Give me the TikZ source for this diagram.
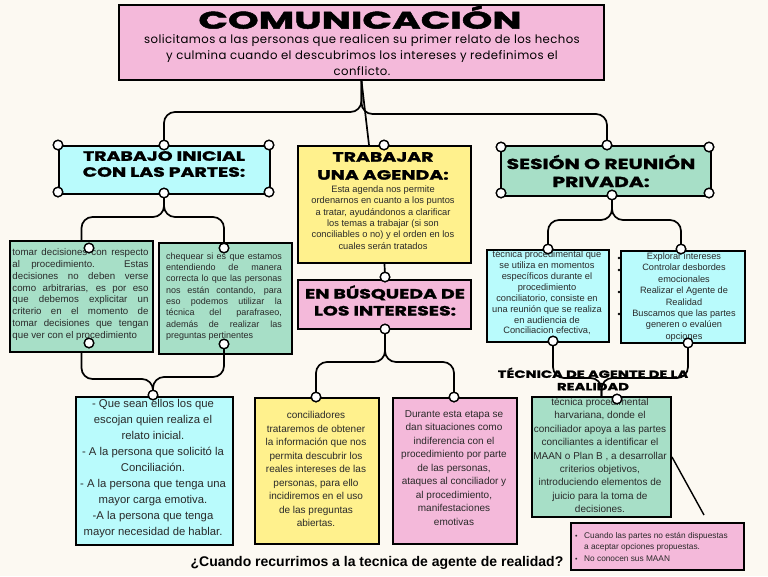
\documentclass[tikz,border=0pt]{standalone}
\usepackage{fontspec}
\setmainfont{Liberation Sans}
\newfontfamily\heavy{Poppins}[FakeStretch=1.4, FakeBold=1.5]
\newfontfamily\heavytitle{Poppins}[FakeStretch=1.62, FakeBold=2]
\newfontfamily\soft{Poppins}[LetterSpace=3.5]
\newcommand{\myfs}[2]{\fontsize{#1}{#2}\selectfont}
\definecolor{bg}{HTML}{FCF9F2}
\definecolor{pinkc}{HTML}{F4B9DA}
\definecolor{cyanc}{HTML}{B9FBFC}
\definecolor{greenc}{HTML}{A7DFC7}
\definecolor{yellowc}{HTML}{FFF18D}
\definecolor{ink}{HTML}{2A2A2A}
\begin{document}
\begin{tikzpicture}[x=1pt,y=-1pt,
  box/.style={draw=black, line width=2pt, inner sep=0pt, anchor=north west},
  handle/.style={circle, draw=black, fill=white, line width=1.3pt, inner sep=0pt, minimum size=9.5pt},
  link/.style={draw=black, line width=1.7pt, rounded corners=11pt, line join=round},
  heading/.style={inner sep=0pt, align=center, text=black},
  txt/.style={inner sep=0pt, align=center, text=ink},
  jtxt/.style={inner sep=0pt, align=justify, text=ink}]
\fill[bg] (0,0) rectangle (768,576);
\useasboundingbox (0,0) rectangle (768,576);

% boxes
\node[box, fill=pinkc, minimum width=485pt, minimum height=75pt] (title) at (118,4) {};
\node[box, fill=cyanc, minimum width=211pt, minimum height=48pt] (tic) at (58,145) {};
\node[box, fill=yellowc, minimum width=173pt, minimum height=117pt] (agenda) at (297,145) {};
\node[box, fill=pinkc, minimum width=173pt, minimum height=49pt] (busq) at (297,279) {};
\node[box, fill=greenc, minimum width=143pt, minimum height=111pt] (tomar) at (9,240) {};
\node[box, fill=greenc, minimum width=133pt, minimum height=111pt] (cheq) at (158,242) {};
\node[box, fill=cyanc, minimum width=157pt, minimum height=148pt] (quien) at (75,396) {};
\node[box, fill=yellowc, minimum width=124pt, minimum height=146pt] (concil) at (254,397) {};
\node[box, fill=pinkc, minimum width=124pt, minimum height=146pt] (durante) at (392,397) {};
\node[box, fill=greenc, minimum width=210pt, minimum height=50pt] (sesion) at (500,145) {};
\node[box, fill=cyanc, minimum width=122pt, minimum height=92pt] (tecproc) at (486,249) {};
\node[box, fill=cyanc, minimum width=124pt, minimum height=92pt] (explorar) at (620,250) {};
\node[box, fill=greenc, minimum width=139pt, minimum height=120pt] (harv) at (531,396) {};
\node[box, fill=pinkc, minimum width=173pt, minimum height=47pt] (cuando) at (570,522) {};

% texts
\node[heading, font=\heavytitle\bfseries\myfs{24}{26}] (titlet) at (360,17) {COMUNICACIÓN};
\node[heading, font=\soft\myfs{11.7}{16}] (subt) at (362,55.5) {solicitamos a las personas que realicen su primer relato de los hechos\\y culmina cuando el descubrimos los intereses y redefinimos el\\conflicto.};
\node[heading, font=\heavy\bfseries\myfs{13.5}{16}] (tict) at (164,164) {TRABAJO INICIAL\\CON LAS PARTES:};
\node[heading, font=\heavy\bfseries\myfs{13.5}{18}] (agendah) at (383,166) {TRABAJAR\\UNA AGENDA:};
\node[txt, font=\myfs{9.3}{11.4}] (agendat) at (383,217.5) {Esta agenda nos permite\\ordenarnos en cuanto a los puntos\\a tratar, ayudándonos a clarificar\\los temas a trabajar (si son\\conciliables o no) y el orden en los\\cuales serán tratados};
\node[heading, font=\heavy\bfseries\myfs{13.5}{17}] (busqt) at (385,300.5) {EN BÚSQUEDA DE\\LOS INTERESES:};
\node[jtxt, font=\myfs{9.7}{11.9}, text width=136pt] (tomart) at (80.5,294.5) {tomar decisiones con respecto\linebreak al procedimiento. Estas\linebreak decisiones no deben verse\linebreak como arbitrarias, es por eso\linebreak que debemos explicitar un\linebreak criterio en el momento de\linebreak tomar decisiones que tengan\linebreak que ver con el procedimiento};
\node[jtxt, font=\myfs{9}{11.3}, text width=116pt] (cheqt) at (224,296.5) {chequear si es que estamos\linebreak entendiendo de manera\linebreak correcta lo que las personas\linebreak nos están contando, para\linebreak eso podemos utilizar la\linebreak técnica del parafraseo,\linebreak además de realizar las\linebreak preguntas pertinentes};
\node[txt, font=\myfs{11.3}{16}] (quient) at (153,469) {- Que sean ellos los que\\escojan quien realiza el\\relato inicial.\\- A la persona que solicitó la\\Conciliación.\\- A la persona que tenga una\\mayor carga emotiva.\\-A la persona que tenga\\mayor necesidad de hablar.};
\node[txt, font=\myfs{10}{13.5}] (concilt) at (316,469) {conciliadores\\trataremos de obtener\\la información que nos\\permita descubrir los\\reales intereses de las\\personas, para ello\\incidiremos en el uso\\de las preguntas\\abiertas.};
\node[txt, font=\myfs{10}{13.5}] (durantet) at (454,468) {Durante esta etapa se\\dan situaciones como\\indiferencia con el\\procedimiento por parte\\de las personas,\\ataques al conciliador y\\al procedimiento,\\manifestaciones\\emotivas};
\node[heading, font=\heavy\bfseries\myfs{14.5}{18}] (sesiont) at (601,171) {SESIÓN O REUNIÓN\\PRIVADA:};
\node[txt, font=\myfs{9.3}{10.9}] (tecproct) at (547,293) {técnica procedimental que\\se utiliza en momentos\\específicos durante el\\procedimiento\\conciliatorio, consiste en\\una reunión que se realiza\\en audiencia de\\Conciliacion efectiva,};
\node[txt, font=\myfs{9.2}{11.4}] (explorart) at (684,297) {Explorar intereses\\Controlar desbordes\\emocionales\\Realizar el Agente de\\Realidad\\Buscamos que las partes\\generen o evalúen\\opciones};
\node[heading, font=\heavy\bfseries\myfs{10.5}{12.5}] (agentet) at (593,379) {TÉCNICA DE AGENTE DE LA\\REALIDAD};
\node[txt, font=\myfs{10}{13.4}] (harvt) at (600,455.5) {técnica procedimental\\harvariana, donde el\\conciliador apoya a las partes\\conciliantes a identificar el\\MAAN o Plan B , a desarrollar\\criterios objetivos,\\introduciendo elementos de\\juicio para la toma de\\decisiones.};
\node[txt, align=left, font=\myfs{8.3}{11.5}, anchor=west] (cuandot) at (575,546.5) {\makebox[9pt][l]{\scriptsize •}Cuando las partes no están dispuestas\\\hspace*{9pt}a aceptar opciones propuestas.\\\makebox[9pt][l]{\scriptsize •}No conocen sus MAAN};
\node[heading, font=\bfseries\myfs{14}{15}] (pregunta) at (377,563) {¿Cuando recurrimos a la tecnica de agente de realidad?};

% bullet dots beside explorar
\foreach \yy in {258,270,292,314} \fill[black] (619,\yy) circle (1.3pt);

% handles (positions)
\node[handle] (hticA) at (58,145) {};
\node[handle] (hticB) at (269,145) {};
\node[handle] (hticC) at (58,192) {};
\node[handle] (hticD) at (269,192) {};
\node[handle] (hticT) at (164,145) {};
\node[handle] (hticM) at (164,193) {};
\node[handle] (hagT) at (384,145) {};
\node[handle] (hbuT) at (385,277) {};
\node[handle] (hbuB) at (385,329) {};
\node[handle] (htoT) at (89,248) {};
\node[handle] (htoB) at (89,343) {};
\node[handle] (hchT) at (224,248) {};
\node[handle] (hchB) at (224,344) {};
\node[handle] (hquT) at (153,395) {};
\node[handle] (hcoT) at (316,397) {};
\node[handle] (hduT) at (454,397) {};
\node[handle] (hseA) at (501,147) {};
\node[handle] (hseB) at (709,147) {};
\node[handle] (hseC) at (501,193) {};
\node[handle] (hseD) at (709,193) {};
\node[handle] (hseT) at (607,145) {};
\node[handle] (hseM) at (612,195) {};
\node[handle] (htpT) at (548,249) {};
\node[handle] (htpB) at (553,341) {};
\node[handle] (hexT) at (681,249) {};
\node[handle] (hexB) at (688,343) {};
\node[handle] (hhaT) at (617,399) {};

% connectors
\coordinate (diagEnd) at (704,515);
\draw[link] (title.south) -- ++(0,31) -| (hticT.center);
\draw[link] (title.south) -- ++(0,33) -| (hseT.center);
\draw[link] (title.south) -- ([xshift=-15pt]hagT.center);
\draw[link] (hticM.center) -- ++(0,24) -| (tomar.north);
\draw[link] (hticM.center) -- ++(0,24) -| (hchT.center);
\draw[link] (tomar.south) -- ++(0,26) -| (hquT.center);
\draw[link] (hchB.center) -- ++(0,33) -| (hquT.center);
\draw[link] (agenda.south) -- (hbuT.center);
\draw[link] (hbuB.center) -- ++(0,33) -| (hcoT.center);
\draw[link] (hbuB.center) -- ++(0,33) -| (hduT.center);
\draw[link] (hseM.center) -- ++(0,25) -| (htpT.center);
\draw[link] (hseM.center) -- ++(0,25) -| (hexT.center);
\draw[link] (htpB.center) -- ++(0,37) -| (harv.north);
\draw[link] (hexB.center) -- ++(0,35) -| (harv.north);
\draw[link, line width=1.4pt] ([yshift=-61pt]harv.north east) -- (diagEnd);

% handles drawn on top of connectors
\foreach \h in {hticA,hticB,hticC,hticD,hticT,hticM,hagT,hbuT,hbuB,htoT,htoB,hchT,hchB,hquT,hcoT,hduT,hseA,hseB,hseC,hseD,hseT,hseM,htpT,htpB,hexT,hexB,hhaT}
  \draw[black, fill=white, line width=1.3pt] (\h.center) circle (4.75pt);
\end{tikzpicture}
\end{document}
